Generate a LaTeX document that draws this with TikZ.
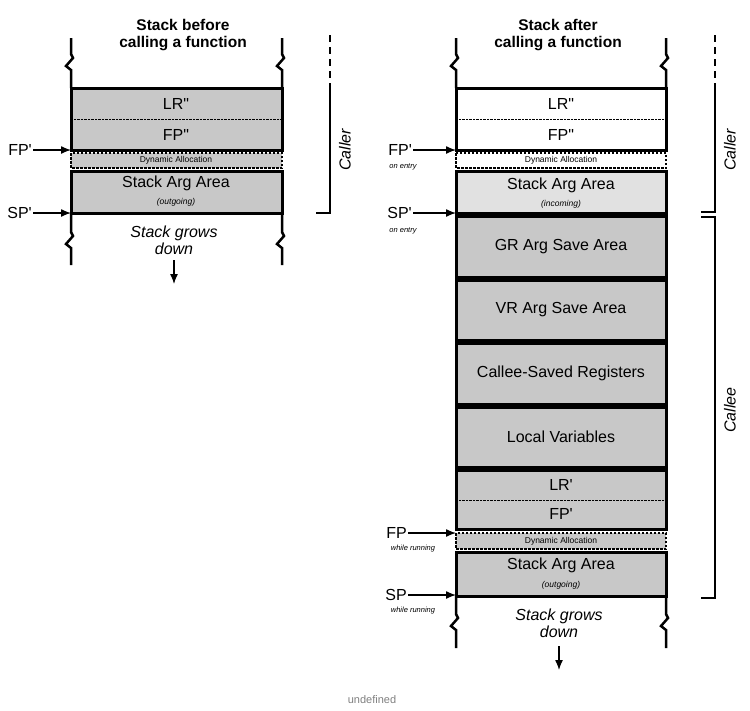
\documentclass[tikz,border=0pt]{standalone}
\usepackage{fontspec}
\setmainfont{Liberation Sans}
\usetikzlibrary{arrows.meta}
\newcommand\pq{\textquotesingle}
\newcommand\dq{\textquotedbl}
\begin{document}
\begin{tikzpicture}[x=1pt,y=-1pt,
 blk/.style={draw,line width=3pt},
 dyn/.style={draw,line width=1.5pt,dash pattern=on 2.5pt off 1.5pt},
 lbl/.style={font=\fontsize{16}{18}\selectfont},
 sub/.style={font=\fontsize{8.5}{9}\selectfont\itshape},
 tiny/.style={font=\fontsize{8.5}{9}\selectfont},
 ttl/.style={font=\fontsize{15.5}{17}\selectfont\bfseries,align=center},
 side/.style={line width=2.5pt},
 brk/.style={line width=1.8pt},
 arr/.style={-{Latex[length=10pt,width=8pt]},line width=1.3pt},
 plab/.style={font=\fontsize{16}{18}\selectfont,anchor=east,inner sep=1pt},
 growtxt/.style={font=\fontsize{16}{17}\selectfont\itshape,align=center},
 note/.style={font=\fontsize{7.5}{8}\selectfont\itshape}]
\useasboundingbox (0,0) rectangle (750,710);
\definecolor{g1}{RGB}{200,200,200}
\definecolor{g2}{RGB}{225,225,225}
% ---------- zigzag sides
\foreach \x in {71,282,456,666}{
 \draw[side] (\x,38)--(\x,54)--(\x+2,58)--(\x-5,66)--(\x,70)--(\x,88);}
\foreach \x in {71,282}{
 \draw[side] (\x,213)--(\x,232)--(\x+2,236)--(\x-5,244)--(\x,248)--(\x,265);}
\foreach \x in {456,666}{
 \draw[side] (\x,596)--(\x,614)--(\x+2,618)--(\x-5,626)--(\x,630)--(\x,648);}
% ---------- left stack
\node[ttl] (t1) at (183,35) {Stack before\\calling a function};
\draw[blk,fill=g1] (71,88) rectangle (282,150);
\draw[densely dotted] (71,119)--(282,119);
\node[lbl] (lr1) at (176,104) {LR\dq};
\node[lbl] (fp1) at (176,135) {FP\dq};
\draw[dyn,fill=g1] (71,153) rectangle (282,168);
\node[tiny] (d1) at (176,160.5) {Dynamic Allocation};
\draw[blk,fill=g1] (71,171) rectangle (282,213);
\node[lbl] (s1) at (176,183) {Stack Arg Area};
\node[sub] (o1) at (176,202) {(outgoing)};
\node[growtxt] (g1n) at (174,240) {Stack grows\\down};
\coordinate (ga1) at (174,284);
\draw[arr] (174,260)--(ga1);
\node[plab] (fpa) at (33,150) {FP\pq};
\node[plab] (spa) at (33,213) {SP\pq};
\coordinate (fpa1) at (71,150); \coordinate (spa1) at (71,213);
\draw[arr] (fpa)--(fpa1);
\draw[arr] (spa)--(spa1);
\draw[brk,dash pattern=on 7pt off 5pt] (330,35)--(330,88);
\draw[brk] (330,88)--(330,213)--(316,213);
\node[rotate=90,growtxt] (c1) at (345,150) {Caller};
% ---------- right stack
\node[ttl] (t2) at (558,35) {Stack after\\calling a function};
\draw[blk,fill=white] (456,88) rectangle (666,150);
\draw[densely dotted] (456,119)--(666,119);
\node[lbl] (lr2) at (561,104) {LR\dq};
\node[lbl] (fp2) at (561,135) {FP\dq};
\draw[dyn,fill=white] (456,153) rectangle (666,168);
\node[tiny] (d2) at (561,160.5) {Dynamic Allocation};
\draw[blk,fill=g2] (456,171) rectangle (666,213);
\node[lbl] (s2) at (561,185) {Stack Arg Area};
\node[sub] (i2) at (561,204) {(incoming)};
\draw[blk,fill=g1] (456,216) rectangle (666,277);
\node[lbl] (gr) at (561,247) {GR Arg Save Area};
\draw[blk,fill=g1] (456,280) rectangle (666,340);
\node[lbl] (vr) at (561,310) {VR Arg Save Area};
\draw[blk,fill=g1] (456,343) rectangle (666,404);
\node[lbl] (cs) at (561,373) {Callee-Saved Registers};
\draw[blk,fill=g1] (456,407) rectangle (666,467);
\node[lbl] (lv) at (561,437) {Local Variables};
\draw[blk,fill=g1] (456,470) rectangle (666,529);
\draw[densely dotted] (456,500)--(666,500);
\node[lbl] (lr3) at (561,485) {LR\pq};
\node[lbl] (fp3) at (561,514) {FP\pq};
\draw[dyn,fill=g1] (456,533) rectangle (666,549);
\node[tiny] (d3) at (561,541) {Dynamic Allocation};
\draw[blk,fill=g1] (456,552) rectangle (666,596);
\node[lbl] (s3) at (561,565) {Stack Arg Area};
\node[sub] (o3) at (561,585) {(outgoing)};
\node[growtxt] (g2n) at (559,623) {Stack grows\\down};
\coordinate (ga2) at (559,670);
\draw[arr] (559,646)--(ga2);
% pointers
\node[plab] (fpb) at (413,150) {FP\pq};
\node[note] at (403,167) {on entry};
\node[plab] (spb) at (413,213) {SP\pq};
\node[note] at (403,231) {on entry};
\node[plab] (fpc) at (408,533) {FP};
\node[note] at (413,549) {while running};
\node[plab] (spc) at (408,595) {SP};
\node[note] at (413,611) {while running};
\coordinate (b1) at (456,150); \coordinate (b2) at (456,213);
\coordinate (b3) at (456,533); \coordinate (b4) at (456,595);
\draw[arr] (fpb)--(b1);
\draw[arr] (spb)--(b2);
\draw[arr] (fpc)--(b3);
\draw[arr] (spc)--(b4);
% brackets
\draw[brk,dash pattern=on 7pt off 5pt] (715,35)--(715,88);
\draw[brk] (715,88)--(715,212)--(701,212);
\draw[brk] (701,217)--(715,217)--(715,598)--(701,598);
\node[rotate=90,growtxt] (c2) at (730,150) {Caller};
\node[rotate=90,growtxt] (c3) at (730,410) {Callee};
\node[text=gray,font=\fontsize{11}{12}\selectfont] (u) at (372,700) {undefined};
\end{tikzpicture}
\end{document}
